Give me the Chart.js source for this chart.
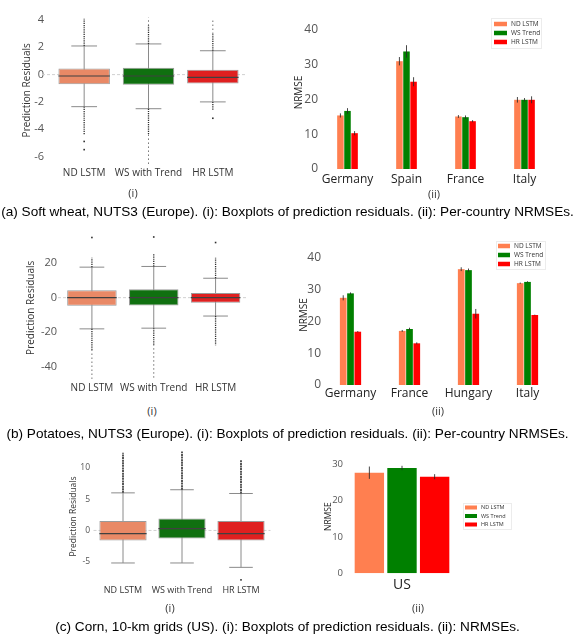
<!DOCTYPE html>
<html>
<head>
<meta charset="utf-8">
<script src="https://cdn.jsdelivr.net/npm/chart.js@4.4.0/dist/chart.umd.min.js"></script>
<style>
  body { margin: 0; background: #fff; width: 575px; height: 636px; position: relative; overflow: hidden; }
  canvas { position: absolute; }
  .cap { position: absolute; left: 0; width: 575px; text-align: center; font-family: "Liberation Sans", Arial, sans-serif; font-size: 13.6px; color: #000; white-space: nowrap; line-height: 16px; }
  .sub { position: absolute; font-family: "Open Sans", sans-serif; font-size: 11px; color: #333; transform: translate(-50%, -50%); }
</style>
</head>
<body>
<canvas id="wheatBox" width="252" height="185" style="left:0;top:0"></canvas>
<canvas id="wheatBar" width="285" height="200" style="left:290px;top:0"></canvas>
<canvas id="potatoBox" width="252" height="175" style="left:0;top:225px"></canvas>
<canvas id="potatoBar" width="285" height="195" style="left:290px;top:225px"></canvas>
<canvas id="cornBox" width="280" height="160" style="left:0;top:440px"></canvas>
<canvas id="cornBar" width="285" height="160" style="left:290px;top:440px"></canvas>

<div class="sub" style="left:133px;top:192px">(i)</div>
<div class="sub" style="left:434px;top:193px">(ii)</div>
<div class="cap" style="top:204px">(a) Soft wheat, NUTS3 (Europe). (i): Boxplots of prediction residuals. (ii): Per-country NRMSEs.</div>
<div class="sub" style="left:152px;top:410px">(i)</div>
<div class="sub" style="left:438px;top:410px">(ii)</div>
<div class="cap" style="top:426px">(b) Potatoes, NUTS3 (Europe). (i): Boxplots of prediction residuals. (ii): Per-country NRMSEs.</div>
<div class="sub" style="left:170px;top:607px">(i)</div>
<div class="sub" style="left:418px;top:607px">(ii)</div>
<div class="cap" style="top:619px">(c) Corn, 10-km grids (US). (i): Boxplots of prediction residuals. (ii): NRMSEs.</div>

<script>
const boxLabels = ['ND LSTM', 'WS with Trend', 'HR LSTM'];
const seriesNames = ['ND LSTM', 'WS Trend', 'HR LSTM'];

// (a) soft wheat residuals
const wheatQ1 = [-0.7, -0.75, -0.65];
const wheatQ3 = [0.45, 0.5, 0.35];
const wheatMedian = [-0.1, -0.1, -0.2];
const wheatWhiskerLow = [-2.35, -2.5, -2.0];
const wheatWhiskerHigh = [2.1, 2.25, 1.75];
const wheatDenseLow = [-4.4, -4.4, -2.6];
const wheatDenseHigh = [4.1, 3.6, 3.0];
const wheatMinOut = [-4.4, -6.6, -2.6];
const wheatMaxOut = [4.1, 4.2, 4.0];
const wheatSingles = [[-4.9, -5.5], [], [-3.2]];

// (a) soft wheat NRMSE
const wheatCountries = ['Germany', 'Spain', 'France', 'Italy'];
const wheatND = [15.4, 31.0, 15.1, 19.9];
const wheatNDErr = [0.6, 1.2, 0.4, 0.8];
const wheatWS = [16.7, 33.8, 14.9, 19.9];
const wheatWSErr = [0.8, 1.8, 0.5, 0.5];
const wheatHR = [10.3, 25.1, 13.75, 19.9];
const wheatHRErr = [0.6, 1.3, 0.3, 1.0];

// (b) potato residuals
const potatoQ1 = [-4.6, -4.5, -2.9];
const potatoQ3 = [4.3, 4.9, 2.7];
const potatoMedian = [0, 0, 0];
const potatoWhiskerLow = [-18, -17.6, -10.6];
const potatoWhiskerHigh = [17.6, 18, 11.2];
const potatoDenseLow = [-30, -27, -27.5];
const potatoDenseHigh = [23, 25.3, 23];
const potatoMinOut = [-46.7, -46.7, -27.5];
const potatoMaxOut = [23, 25.3, 23];
const potatoSingles = [[34.7], [35], [31.8]];

// (b) potato NRMSE
const potatoCountries = ['Germany', 'France', 'Hungary', 'Italy'];
const potatoND = [27.4, 17.0, 36.4, 32.0];
const potatoNDErr = [0.8, 0.3, 0.6, 0.2];
const potatoWS = [28.8, 17.6, 36.1, 32.4];
const potatoWSErr = [0.3, 0.4, 0.5, 0.2];
const potatoHR = [16.75, 13.1, 22.4, 22.0];
const potatoHRErr = [0.2, 0.3, 1.5, 0.1];

// (c) corn residuals
const cornQ1 = [-1.6, -1.3, -1.6];
const cornQ3 = [1.5, 1.9, 1.5];
const cornMedian = [-0.5, 0.3, -0.5];
const cornWhiskerLow = [-5.2, -5.2, -5.9];
const cornWhiskerHigh = [6.0, 6.5, 5.9];
const cornDenseLow = [-5.2, -5.2, -5.9];
const cornDenseHigh = [12.4, 12.6, 11.3];
const cornMinOut = [-5.2, -5.2, -5.9];
const cornMaxOut = [12.4, 12.6, 11.3];
const cornSingles = [[], [], [-7.9]];

// (c) corn NRMSE
const cornRegions = ['US'];
const cornND = [27.7];
const cornNDErr = [1.7];
const cornWS = [29.0];
const cornWSErr = [0.6];
const cornHR = [26.6];
const cornHRErr = [0.7];

const boxColors = ['#e98966', '#107010', '#df2020'];
const barColors = ['#ff7f50', '#008000', '#ff0000'];
const tickFont = 'Open Sans';

const boxPlugin = (stats, geom) => ({
    id: 'boxExtras',
    beforeDatasetsDraw(chart) {
        const { ctx, chartArea, scales: { y } } = chart;
        const bars = chart.getDatasetMeta(0).data;
        ctx.save();
        const y0 = y.getPixelForValue(0);
        ctx.strokeStyle = '#d0d0d0';
        ctx.lineWidth = 1;
        ctx.setLineDash([3, 2]);
        ctx.beginPath();
        ctx.moveTo(chartArea.left - geom.zeroExt, y0);
        ctx.lineTo(chartArea.right, y0);
        ctx.stroke();
        ctx.setLineDash([]);
        ctx.strokeStyle = '#8a8a8a';
        bars.forEach((bar, i) => {
            const yl = y.getPixelForValue(stats.low[i]);
            const yh = y.getPixelForValue(stats.high[i]);
            const half = bar.width / 4;
            ctx.beginPath();
            ctx.moveTo(bar.x, yh);
            ctx.lineTo(bar.x, yl);
            ctx.moveTo(bar.x - half, yh);
            ctx.lineTo(bar.x + half, yh);
            ctx.moveTo(bar.x - half, yl);
            ctx.lineTo(bar.x + half, yl);
            ctx.stroke();
        });
        ctx.restore();
    },
    afterDatasetsDraw(chart) {
        const { ctx, scales: { y } } = chart;
        const bars = chart.getDatasetMeta(0).data;
        ctx.save();
        bars.forEach((bar, i) => {
            // median
            const ym = y.getPixelForValue(stats.median[i]);
            ctx.strokeStyle = '#404040';
            ctx.lineWidth = 1.2;
            ctx.beginPath();
            ctx.moveTo(bar.x - bar.width / 2, ym);
            ctx.lineTo(bar.x + bar.width / 2, ym);
            ctx.stroke();

            // fliers: dense part, then sparse part
            ctx.strokeStyle = '#2e2e2e';
            const seg = (from, to, dash, width) => {
                if (from === to) return;
                ctx.setLineDash(dash);
                ctx.lineWidth = width;
                ctx.beginPath();
                ctx.moveTo(bar.x, y.getPixelForValue(from));
                ctx.lineTo(bar.x, y.getPixelForValue(to));
                ctx.stroke();
            };
            seg(stats.high[i], stats.denseHigh[i], geom.denseDash, geom.flierWidth);
            seg(stats.denseHigh[i], stats.maxOut[i], [1, 3], 1);
            seg(stats.low[i], stats.denseLow[i], geom.denseDash, geom.flierWidth);
            seg(stats.denseLow[i], stats.minOut[i], [1, 3], 1);
            ctx.setLineDash([]);
            ctx.fillStyle = '#2e2e2e';
            stats.singles[i].forEach(v => {
                ctx.fillRect(bar.x - 0.8, y.getPixelForValue(v) - 0.8, 1.6, 1.6);
            });
        });
        ctx.restore();
    }
});

const errorPlugin = {
    id: 'errorBars',
    afterDatasetsDraw(chart) {
        const { ctx, scales: { y } } = chart;
        ctx.save();
        ctx.strokeStyle = 'rgba(40, 40, 40, 0.85)';
        ctx.lineWidth = 1;
        chart.data.datasets.forEach((ds, k) => {
            chart.getDatasetMeta(k).data.forEach((bar, i) => {
                const v = ds.data[i];
                const e = ds.errors[i];
                ctx.beginPath();
                ctx.moveTo(bar.x, y.getPixelForValue(v - e));
                ctx.lineTo(bar.x, y.getPixelForValue(v + e));
                ctx.stroke();
            });
        });
        ctx.restore();
    }
};

const legendPlugin = (lg) => ({
    id: 'boxLegend',
    afterDraw(chart) {
        const { ctx } = chart;
        ctx.save();
        ctx.fillStyle = '#fff';
        ctx.strokeStyle = '#ececec';
        ctx.lineWidth = 1;
        ctx.fillRect(lg.x, lg.y, lg.w, lg.h);
        ctx.strokeRect(lg.x + 0.5, lg.y + 0.5, lg.w, lg.h);
        ctx.font = `${lg.font}px "${tickFont}"`;
        ctx.textBaseline = 'middle';
        chart.data.datasets.forEach((ds, k) => {
            const cy = lg.y + lg.first + k * lg.gap;
            ctx.fillStyle = ds.backgroundColor;
            ctx.fillRect(lg.x + lg.pad, cy - lg.ph / 2, lg.pw, lg.ph);
            ctx.fillStyle = '#333';
            ctx.fillText(ds.label, lg.x + lg.pad + lg.pw + 4, cy);
        });
        ctx.restore();
    }
});

function boxChart(id, stats, geom) {
    return new Chart(document.getElementById(id), {
        type: 'bar',
        data: {
            labels: boxLabels,
            datasets: [{
                data: stats.q1.map((v, i) => [v, stats.q3[i]]),
                backgroundColor: boxColors,
                borderColor: '#9a9a9a',
                borderWidth: 1,
                borderSkipped: false,
                barPercentage: 0.8,
                categoryPercentage: 1
            }]
        },
        options: {
            responsive: false,
            animation: false,
            layout: { padding: geom.padding },
            plugins: { legend: { display: false }, tooltip: { enabled: false } },
            scales: {
                x: {
                    grid: { display: false, drawTicks: false },
                    border: { display: false },
                    ticks: { padding: geom.xPad, maxRotation: 0, minRotation: 0, autoSkip: false, color: '#333', font: { family: tickFont, size: geom.xFont } },
                    afterFit: (s) => { s.height = geom.xHeight; }
                },
                y: {
                    min: geom.min,
                    max: geom.max,
                    grid: { display: false, drawTicks: false },
                    border: { display: false },
                    ticks: { stepSize: geom.step, includeBounds: false, padding: geom.yPad, color: '#555', font: { family: tickFont, size: geom.yFont } },
                    title: { display: true, text: 'Prediction Residuals', color: '#333', padding: { top: geom.titlePad }, font: { family: tickFont, size: geom.titleFont } },
                    afterFit: (s) => { s.width = geom.yWidth; }
                }
            }
        },
        plugins: [boxPlugin(stats, geom)]
    });
}

function barChart(id, labels, series, geom) {
    return new Chart(document.getElementById(id), {
        type: 'bar',
        data: {
            labels: labels,
            datasets: series.map((s, k) => ({
                label: seriesNames[k],
                data: s[0],
                errors: s[1],
                backgroundColor: barColors[k],
                barPercentage: geom.barPct,
                categoryPercentage: geom.catPct
            }))
        },
        options: {
            responsive: false,
            animation: false,
            layout: { padding: geom.padding },
            plugins: { legend: { display: false }, tooltip: { enabled: false } },
            scales: {
                x: {
                    grid: { display: false, drawTicks: false },
                    border: { display: false },
                    ticks: { padding: geom.xPad, maxRotation: 0, minRotation: 0, autoSkip: false, color: '#222', font: { family: tickFont, size: geom.xFont } },
                    afterFit: (s) => { s.height = geom.xHeight; }
                },
                y: {
                    min: 0,
                    max: geom.max,
                    grid: { display: false, drawTicks: false },
                    border: { display: false },
                    ticks: { stepSize: 10, includeBounds: false, padding: geom.yPad, color: '#555', font: { family: tickFont, size: geom.yFont } },
                    title: { display: true, text: 'NRMSE', color: '#222', padding: { top: geom.titlePad }, font: { family: tickFont, size: geom.titleFont } },
                    afterFit: (s) => { s.width = geom.yWidth; }
                }
            }
        },
        plugins: [errorPlugin, legendPlugin(geom.legend)]
    });
}

boxChart('wheatBox', {
    q1: wheatQ1, q3: wheatQ3, median: wheatMedian, low: wheatWhiskerLow, high: wheatWhiskerHigh,
    denseLow: wheatDenseLow, denseHigh: wheatDenseHigh, minOut: wheatMinOut, maxOut: wheatMaxOut, singles: wheatSingles
}, {
    padding: { top: 7, right: 7, left: 0, bottom: 0 }, yWidth: 52, xHeight: 19,
    min: -6.7, max: 4.4, step: 2, xPad: 1, xFont: 10, yPad: 8, yFont: 11,
    titlePad: 21, titleFont: 10, zeroExt: 10, denseDash: [1.2, 1], flierWidth: 1.3
});

barChart('wheatBar', wheatCountries, [[wheatND, wheatNDErr], [wheatWS, wheatWSErr], [wheatHR, wheatHRErr]], {
    padding: { top: 16, right: 21, left: 0, bottom: 0 }, yWidth: 28, xHeight: 31,
    max: 44, xPad: 3, xFont: 12, yPad: 0, yFont: 12, titlePad: 3, titleFont: 10,
    barPct: 0.92, catPct: 0.36,
    legend: { x: 201, y: 18, w: 50, h: 30, pad: 3, pw: 13, ph: 4.5, first: 6, gap: 9, font: 6.5 }
});

boxChart('potatoBox', {
    q1: potatoQ1, q3: potatoQ3, median: potatoMedian, low: potatoWhiskerLow, high: potatoWhiskerHigh,
    denseLow: potatoDenseLow, denseHigh: potatoDenseHigh, minOut: potatoMinOut, maxOut: potatoMaxOut, singles: potatoSingles
}, {
    padding: { top: 10, right: 5.5, left: 0, bottom: 0 }, yWidth: 61, xHeight: 20,
    min: -47.5, max: 35.8, step: 20, xPad: 2, xFont: 10, yPad: 4, yFont: 11,
    titlePad: 25, titleFont: 10, zeroExt: 3, denseDash: [1.2, 1], flierWidth: 1.3
});

barChart('potatoBar', potatoCountries, [[potatoND, potatoNDErr], [potatoWS, potatoWSErr], [potatoHR, potatoHRErr]], {
    padding: { top: 20, right: 18, left: 0, bottom: 0 }, yWidth: 31, xHeight: 35,
    max: 44, xPad: 1, xFont: 12, yPad: 0, yFont: 12, titlePad: 8, titleFont: 10,
    barPct: 0.92, catPct: 0.37,
    legend: { x: 206, y: 16, w: 49, h: 28, pad: 2, pw: 12, ph: 4.5, first: 5, gap: 9, font: 6.5 }
});

boxChart('cornBox', {
    q1: cornQ1, q3: cornQ3, median: cornMedian, low: cornWhiskerLow, high: cornWhiskerHigh,
    denseLow: cornDenseLow, denseHigh: cornDenseHigh, minOut: cornMinOut, maxOut: cornMaxOut, singles: cornSingles
}, {
    padding: { top: 10, right: 9.5, left: 0, bottom: 0 }, yWidth: 93.5, xHeight: 17,
    min: -8.4, max: 12.85, step: 5, xPad: 1.6, xFont: 9, yPad: 3.5, yFont: 8.5,
    titlePad: 68, titleFont: 8.5, zeroExt: 0, denseDash: [2, 0.6], flierWidth: 1.6
});

barChart('cornBar', cornRegions, [[cornND, cornNDErr], [cornWS, cornWSErr], [cornHR, cornHRErr]], {
    padding: { top: 20, right: 122, left: 0, bottom: 0 }, yWidth: 61, xHeight: 26.7,
    max: 31.2, xPad: 3.3, xFont: 14, yPad: 8, yFont: 9.5, titlePad: 33, titleFont: 8.5,
    barPct: 0.9, catPct: 0.96,
    legend: { x: 173, y: 63, w: 48, h: 26, pad: 2, pw: 12, ph: 4, first: 4.5, gap: 8.5, font: 5.5 }
});
</script>
</body>
</html>
